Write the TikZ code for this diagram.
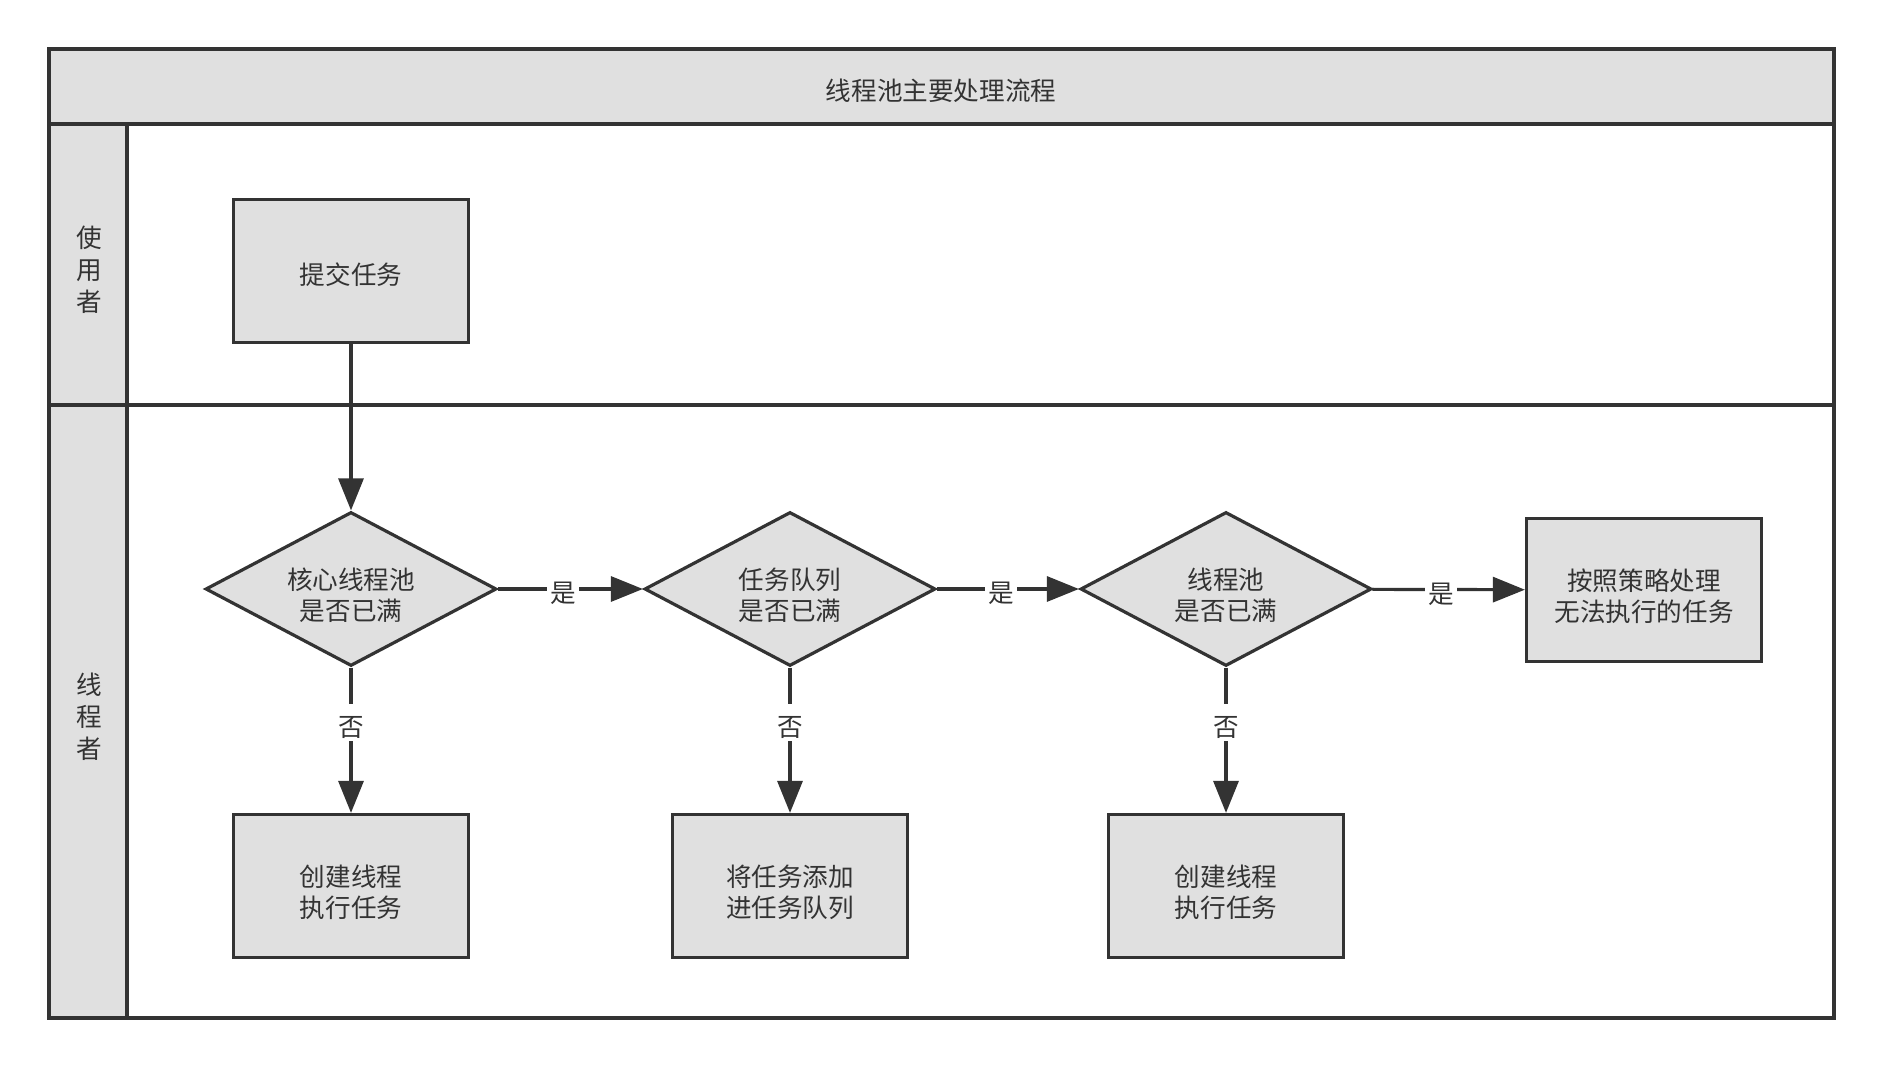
\documentclass[tikz,border=0pt]{standalone}
\usepackage{fontspec}
\setmainfont{Noto Sans CJK SC}
\usetikzlibrary{shapes.geometric,arrows.meta}
\definecolor{lineclr}{HTML}{333333}
\definecolor{fillclr}{HTML}{E0E0E0}
\newcommand{\boxtext}[2][-3.8pt]{\raisebox{#1}[\height][\depth]{\begin{tabular}{@{}c@{}}#2\end{tabular}}}

\begin{document}
\begin{tikzpicture}[x=0.5pt,y=0.5pt,yscale=-1,xscale=1,
  every node/.style={text=lineclr,font=\fontsize{12.8pt}{15.6pt}\selectfont},
  procbox/.style={draw=lineclr,line width=1.6pt,fill=fillclr,minimum width=117.5pt,minimum height=71.5pt,inner sep=0pt},
  decision/.style={diamond,shape aspect=1.9,draw=lineclr,line width=1.6pt,fill=fillclr,minimum width=145.5pt,minimum height=77pt,inner sep=0pt},
  flow/.style={draw=lineclr,line width=1.6pt,-{Triangle[length=16pt,width=12.5pt]}},
  tag/.style={fill=white,inner sep=1.5pt}]
%set diagram size: 1884 x 1068
\useasboundingbox (0,0) rectangle (1884,1068);

%Pool frame
\fill[fillclr] (49,49) rectangle (1834,124);
\fill[fillclr] (49,124) rectangle (127,1018);
\draw[lineclr,line width=1.6pt] (49,49) rectangle (1834,1018);
\draw[lineclr,line width=1.6pt] (49,124) -- (1834,124);
\draw[lineclr,line width=1.6pt] (127,124) -- (127,1018);
\draw[lineclr,line width=1.6pt] (49,405) -- (1834,405);

% Text Node
\node (title) at (941,89) {\boxtext[-2.6pt]{线程池主要处理流程}};
% Text Node
\node[align=center,font=\fontsize{12.8pt}{16pt}\selectfont] (laneuser) at (89,270) {使\\用\\者};
% Text Node
\node[align=center,font=\fontsize{12.8pt}{16pt}\selectfont] (lanepool) at (89,717) {线\\程\\者};

% Text Node
\node[procbox] (submit) at (351,271) {\boxtext{提交任务}};
% Text Node
\node[decision] (corefull) at (351,589) {\boxtext[-5pt]{核心线程池\\是否已满}};
\node[decision] (queuefull) at (790,589) {\boxtext[-5pt]{任务队列\\是否已满}};
\node[decision] (poolfull) at (1226,589) {\boxtext[-5pt]{线程池\\是否已满}};
% Text Node
\node[procbox] (reject) at (1644,590) {\boxtext[-5pt]{按照策略处理\\无法执行的任务}};
\node[procbox] (corerun) at (351,886) {\boxtext[-5pt]{创建线程\\执行任务}};
\node[procbox] (enqueue) at (790,886) {\boxtext[-5pt]{将任务添加\\进任务队列}};
\node[procbox] (poolrun) at (1226,886) {\boxtext[-5pt]{创建线程\\执行任务}};

% Connection
\draw[flow] (submit) -- (corefull);
% Connection
\draw[flow] (corefull) -- node[tag,pos=0.45] (yes1) {\boxtext{是}} (queuefull);
\draw[flow] (queuefull) -- node[tag,pos=0.45] (yes2) {\boxtext{是}} (poolfull);
\draw[flow] (poolfull) -- node[tag,pos=0.45] (yes3) {\boxtext{是}} (reject);
% Connection
\draw[flow] (corefull) -- node[tag,pos=0.38] (no1) {\boxtext{否}} (corerun);
\draw[flow] (queuefull) -- node[tag,pos=0.38] (no2) {\boxtext{否}} (enqueue);
\draw[flow] (poolfull) -- node[tag,pos=0.38] (no3) {\boxtext{否}} (poolrun);

\end{tikzpicture}
\end{document}
